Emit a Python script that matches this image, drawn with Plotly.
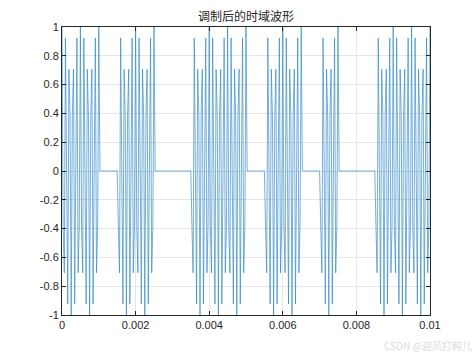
import plotly.graph_objects as go

# Bit sequence (one value per 0.5 ms bit), read from the bursts
bits = [1, 1, 0, 1, 1, 0, 0, 1, 1, 1, 0, 1, 1, 0, 1, 0, 0, 1, 1, 1]
# Carrier sample values within one bit (16 samples per bit), read from the peaks
carrier = [1.0, -0.383, -0.707, 0.924, 0.0, -0.924, 0.707, 0.383,
           -1.0, 0.383, 0.707, -0.924, 0.0, 0.924, -0.707, -0.383]
sample_dt = 0.0005 / 16
x_ticks = [0, 0.002, 0.004, 0.006, 0.008, 0.01]
x_tick_text = ["0", "0.002", "0.004", "0.006", "0.008", "0.01"]
y_ticks = [-1, -0.8, -0.6, -0.4, -0.2, 0, 0.2, 0.4, 0.6, 0.8, 1]
y_tick_text = ["-1", "-0.8", "-0.6", "-0.4", "-0.2", "0", "0.2", "0.4", "0.6", "0.8", "1"]
title_text = "调制后的时域波形"
watermark = "CSDN @迎风打盹儿"

n_per_bit = len(carrier)
n_total = len(bits) * n_per_bit
t = []
s = []
for n in range(n_total + 1):
    b = 0 if n == 0 else (n - 1) // n_per_bit
    t.append(n * sample_dt)
    s.append(bits[b] * carrier[n % n_per_bit])

fig = go.Figure()
fig.add_trace(go.Scatter(x=t, y=s, mode="lines",
                         line=dict(color="#2a84c6", width=0.65),
                         showlegend=False, hoverinfo="skip"))

axis_common = dict(
    showgrid=True, gridcolor="#e6e6e6", gridwidth=1,
    zeroline=False, showline=True, linecolor="#262626", linewidth=1,
    mirror="ticks", ticks="inside", ticklen=4, tickcolor="#262626",
    tickfont=dict(family="Liberation Sans, Arial, sans-serif", size=11, color="#262626"),
)
fig.update_xaxes(range=[0, 0.01], tickvals=x_ticks, ticktext=x_tick_text, **axis_common)
fig.update_yaxes(range=[-1, 1], tickvals=y_ticks, ticktext=y_tick_text, **axis_common)

fig.update_layout(
    width=474, height=355,
    margin=dict(l=62, r=44, t=27, b=40),
    paper_bgcolor="white", plot_bgcolor="white",
    title=dict(text=title_text, x=(62 + 430) / 2 / 474, xanchor="center",
               y=1 - 17 / 355, yanchor="middle",
               font=dict(family="Noto Sans CJK SC", size=12, color="#262626")),
    annotations=[dict(text=watermark, xref="paper", yref="paper",
                      x=1 + 44 / 368, y=-40 / 288, xanchor="right", yanchor="bottom",
                      showarrow=False,
                      font=dict(family="Noto Sans CJK SC", size=10, color="#dcdcdc"))],
)

fig.write_html("out.html")
